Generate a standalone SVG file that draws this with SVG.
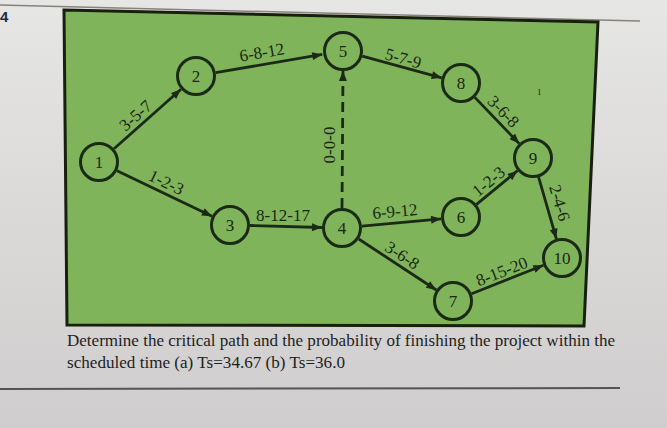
<svg xmlns="http://www.w3.org/2000/svg" width="667" height="428" viewBox="0 0 667 428">
<defs>
<linearGradient id="bg" x1="0" y1="0" x2="0" y2="1">
<stop offset="0" stop-color="#e6e6e4"/>
<stop offset="1" stop-color="#cfcdcd"/>
</linearGradient>
<marker id="arr" viewBox="0 0 10 8" refX="10" refY="4" markerWidth="11" markerHeight="8" markerUnits="userSpaceOnUse" orient="auto">
<path d="M0,0 L10,4 L0,8 z" fill="#1b2a17"/>
</marker>
<style>
.node circle{fill:#80b45a;stroke:#1b2a17;stroke-width:3}
.node text{font-family:"Liberation Serif","Times New Roman",serif;font-size:17px;fill:#1b2616;text-anchor:middle}
.edge{stroke:#1b2a17;stroke-width:2.8;fill:none;marker-end:url(#arr)}
.dash{stroke-dasharray:10 6}
.lbl{font-family:"Liberation Serif","Times New Roman",serif;font-size:17px;fill:#1b2616;text-anchor:middle}
.q{font-family:"Liberation Serif","Times New Roman",serif;font-size:17px;fill:#1e1e1e}
</style>
</defs>
<rect x="0" y="0" width="667" height="428" fill="url(#bg)"/>
<line x1="0" y1="5" x2="640" y2="21" stroke="#8a8278" stroke-width="1.5"/>
<text x="0" y="22" font-family="Liberation Sans,Arial,sans-serif" font-size="15" font-weight="bold" fill="#1f2a44">4</text>
<polygon points="64,10 598,22 584,326 67,325" fill="#80b45a" stroke="#17200f" stroke-width="3"/>
<text x="537" y="95" font-family="Liberation Serif,serif" font-size="9" fill="#1b2616">1</text>
<g id="connectors">
<line class="edge" x1="114" y1="148.7" x2="181" y2="89.3"/>
<line class="edge" x1="215.7" y1="72.6" x2="322.3" y2="54.4"/>
<line class="edge" x1="362.3" y1="56.2" x2="441.7" y2="77.8"/>
<line class="edge" x1="474.8" y1="97.4" x2="519.2" y2="143.6"/>
<line class="edge" x1="117" y1="170.7" x2="212" y2="216.3"/>
<line class="edge" x1="250" y1="225.5" x2="322" y2="227.5"/>
<line class="edge dash" x1="342" y1="208" x2="343" y2="71"/>
<line class="edge" x1="361.9" y1="226.2" x2="441.1" y2="218.8"/>
<line class="edge" x1="358.7" y1="239" x2="436.3" y2="290"/>
<line class="edge" x1="476.5" y1="204.3" x2="517.5" y2="170.7"/>
<line class="edge" x1="538.6" y1="177.2" x2="556.4" y2="238.8"/>
<line class="edge" x1="471.6" y1="293.7" x2="543.4" y2="265.3"/>
<text class="lbl" transform="translate(136,116) rotate(-41.6)" y="5">3-5-7</text>
<text class="lbl" transform="translate(262,53) rotate(-9.7)" y="5">6-8-12</text>
<text class="lbl" transform="translate(403,59) rotate(15.2)" y="5">5-7-9</text>
<text class="lbl" transform="translate(503,112) rotate(46)" y="5">3-6-8</text>
<text class="lbl" transform="translate(166,183) rotate(25.7)" y="5">1-2-3</text>
<text class="lbl" transform="translate(283,216)" y="5">8-12-17</text>
<text class="lbl" transform="translate(330,145) rotate(-90)" y="5">0-0-0</text>
<text class="lbl" transform="translate(395,212) rotate(-5.3)" y="5">6-9-12</text>
<text class="lbl" transform="translate(402,256) rotate(33.3)" y="5">3-6-8</text>
<text class="lbl" transform="translate(489,182) rotate(-39.3)" y="5">1-2-3</text>
<text class="lbl" transform="translate(559,203) rotate(73.8)" y="5">2-4-6</text>
<text class="lbl" transform="translate(502,272) rotate(-21.5)" y="5">8-15-20</text>
</g>
<g id="n1" class="node"><circle cx="99" cy="162" r="18.5"/><text x="99" y="168">1</text></g>
<g id="n2" class="node"><circle cx="196" cy="76" r="18.5"/><text x="196" y="82">2</text></g>
<g id="n3" class="node"><circle cx="230" cy="225" r="18.5"/><text x="230" y="231">3</text></g>
<g id="n4" class="node"><circle cx="342" cy="228" r="18.5"/><text x="342" y="234">4</text></g>
<g id="n5" class="node"><circle cx="343" cy="51" r="18.5"/><text x="343" y="57">5</text></g>
<g id="n6" class="node"><circle cx="461" cy="217" r="18.5"/><text x="461" y="223">6</text></g>
<g id="n7" class="node"><circle cx="453" cy="301" r="18.5"/><text x="453" y="307">7</text></g>
<g id="n8" class="node"><circle cx="461" cy="83" r="18.5"/><text x="461" y="89">8</text></g>
<g id="n9" class="node"><circle cx="533" cy="158" r="18.5"/><text x="533" y="164">9</text></g>
<g id="n10" class="node"><circle cx="562" cy="258" r="18.5"/><text x="562" y="264">10</text></g>
<text class="q" x="67" y="346" textLength="548" lengthAdjust="spacingAndGlyphs">Determine the critical path and the probability of finishing the project within the</text>
<text class="q" x="67" y="368" textLength="278" lengthAdjust="spacingAndGlyphs">scheduled time (a) Ts=34.67 (b) Ts=36.0</text>
<line x1="0" y1="389" x2="620" y2="388" stroke="#555353" stroke-width="2"/>
</svg>
